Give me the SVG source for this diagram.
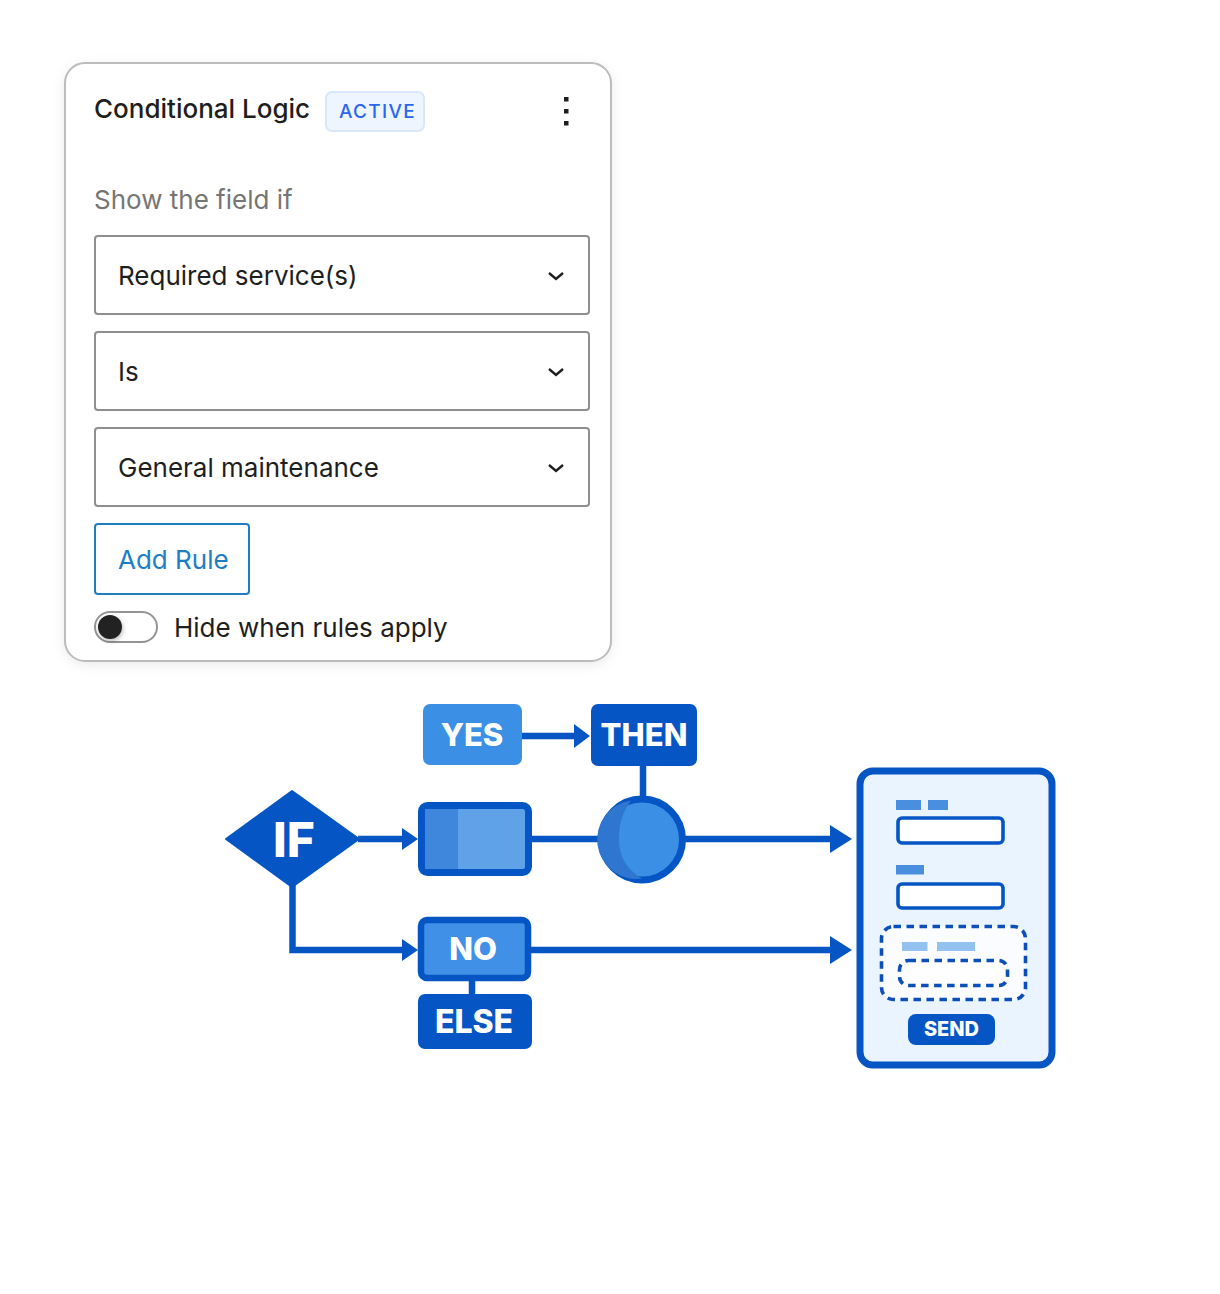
<svg xmlns="http://www.w3.org/2000/svg" width="1220" height="1294" viewBox="0 0 1220 1294">
<style>
.ui{font-family:Inter,"Liberation Sans",sans-serif}
.t{font-size:26px;fill:#1e1e1e}
.sel{fill:#fff;stroke:#8f8f8f;stroke-width:2}
.chev{fill:none;stroke:#1e1e1e;stroke-width:2.4}
.dk{fill:#0556c4}
.lbl{font-family:Inter,"Liberation Sans",sans-serif;font-weight:800;fill:#fff;text-anchor:middle}
.ln{fill:none;stroke:#0556c4;stroke-width:6.5}
.hd{fill:#0556c4;stroke:none}
.fld{fill:#fff;stroke:#0556c4;stroke-width:3.6}
.dash{fill:#fff;fill-opacity:.75;stroke:#0b4fb8;stroke-width:3.6;stroke-dasharray:7.5 5.5}
</style>
<defs>
<filter id="sh" x="-10%" y="-10%" width="120%" height="120%"><feDropShadow dx="0" dy="3" stdDeviation="6" flood-color="#000" flood-opacity=".08"/></filter>
<filter id="ks" x="-50%" y="-50%" width="200%" height="200%"><feDropShadow dx="1" dy="2" stdDeviation="2" flood-color="#000" flood-opacity=".25"/></filter>
</defs>
<rect width="1220" height="1294" fill="#fff"/>
<g id="card">
<rect x="65" y="63" width="546" height="598" rx="20" fill="#fff" stroke="#bcbcbc" stroke-width="2" filter="url(#sh)"/>
<text class="ui" x="94" y="118" font-size="26" font-weight="500" fill="#1e1e1e">Conditional Logic</text>
</g>
<g id="badge">
<rect x="326" y="92" width="98" height="39" rx="6" fill="#eef5ff" stroke="#d8e7fd" stroke-width="2"/>
<text class="ui" x="339" y="118" font-size="19" font-weight="500" letter-spacing="1.3" fill="#2b66ee">ACTIVE</text>
</g>
<g id="menu" fill="#1e1e1e"><rect x="564" y="97" width="4.500" height="4.500"/><rect x="564" y="109" width="4.500" height="4.500"/><rect x="564" y="121" width="4.500" height="4.500"/></g>
<text class="ui" x="94" y="209" font-size="26" fill="#757575">Show the field if</text>
<g id="select1"><rect class="sel" x="95" y="236" width="494" height="78" rx="3"/><text class="ui t" x="118" y="285">Required service(s)</text><path class="chev" d="M549 273l7 6 7-6"/></g>
<g id="select2"><rect class="sel" x="95" y="332" width="494" height="78" rx="3"/><text class="ui t" x="118" y="381">Is</text><path class="chev" d="M549 369l7 6 7-6"/></g>
<g id="select3"><rect class="sel" x="95" y="428" width="494" height="78" rx="3"/><text class="ui t" x="118" y="477">General maintenance</text><path class="chev" d="M549 465l7 6 7-6"/></g>
<g id="add-rule"><rect x="95" y="524" width="154" height="70" rx="3" fill="#fff" stroke="#1e7dc4" stroke-width="2"/><text class="ui" x="118" y="569" font-size="26" fill="#1e7dc4">Add Rule</text></g>
<g id="toggle"><rect x="95" y="612" width="62" height="30" rx="15" fill="#fff" stroke="#949494" stroke-width="2"/><circle cx="110" cy="627" r="12" fill="#222" filter="url(#ks)"/><text class="ui t" x="174" y="637">Hide when rules apply</text></g>

<g id="connectors">
<path class="ln" d="M522 736H576"/><path class="hd" d="M574 724L590 736L574 748Z"/>
<path class="ln" d="M643 766V798"/>
<path class="ln" d="M358 839H404"/><path class="hd" d="M402 828L418 839L402 850Z"/>
<path class="ln" d="M532 839H600"/>
<path class="ln" d="M684 839H832"/><path class="hd" d="M830 825L852 839L830 853Z"/>
<path class="ln" d="M292.500 885V950H404"/><path class="hd" d="M402 939L418 950L402 961Z"/>
<path class="ln" d="M531 950H832"/><path class="hd" d="M830 936L852 950L830 964Z"/>
<path class="ln" d="M472 980V995"/>
</g>

<g id="yes"><rect x="423" y="704" width="99" height="61" rx="7" fill="#3b90e6"/><text class="lbl" x="472" y="746" font-size="31">YES</text></g>
<g id="then"><rect class="dk" x="591" y="704" width="106" height="62" rx="7"/><text class="lbl" x="644" y="746" font-size="31">THEN</text></g>
<g id="if"><path class="dk" d="M292 791L359 839L292 887L226 839Z" stroke="#0556c4" stroke-width="2" stroke-linejoin="round"/><text class="lbl" x="294" y="857" font-size="48">IF</text></g>
<g id="step"><rect x="421.500" y="805.500" width="107" height="67" rx="6" fill="#5fa2e8" stroke="#0556c4" stroke-width="7"/><rect x="425" y="809" width="33" height="60" fill="#3f87dc"/></g>
<g id="merge"><circle cx="642" cy="839.500" r="40.500" fill="#3b90e6" stroke="#0556c4" stroke-width="7"/><path d="M631 800.500A39 39 0 0 0 642 878.500C625 868 619 855 619 838C619 822 624 810 631 800.500Z" fill="#2e76cf"/></g>
<g id="no"><rect x="421" y="920" width="107" height="58" rx="6" fill="#3f90e6" stroke="#0556c4" stroke-width="6.500"/><text class="lbl" x="473" y="960" font-size="31">NO</text></g>
<g id="else"><rect class="dk" x="418" y="994" width="114" height="55" rx="7"/><text class="lbl" x="474" y="1033" font-size="32">ELSE</text></g>
<g id="form">
<rect x="860" y="771" width="192" height="294" rx="13" fill="#e9f4fe" stroke="#0556c4" stroke-width="7"/>
<rect x="896" y="800" width="25" height="10" fill="#4a8fdf"/><rect x="928" y="800" width="20" height="10" fill="#4a8fdf"/>
<rect class="fld" x="898" y="818" width="105" height="25" rx="4"/>
<rect x="896" y="865" width="28" height="9.500" fill="#4a8fdf"/>
<rect class="fld" x="898" y="884" width="105" height="24" rx="4"/>
<rect class="dash" x="881.500" y="926.500" width="144" height="73" rx="12"/>
<rect x="902" y="942" width="25.500" height="9" fill="#93c1f0"/><rect x="937" y="942" width="38" height="9" fill="#93c1f0"/>
<rect class="dash" x="899.500" y="960.500" width="108" height="25" rx="9"/>
<rect class="dk" x="908" y="1014" width="87" height="31" rx="8"/><text class="lbl" x="951.500" y="1036" font-size="20">SEND</text>
</g>
</svg>
